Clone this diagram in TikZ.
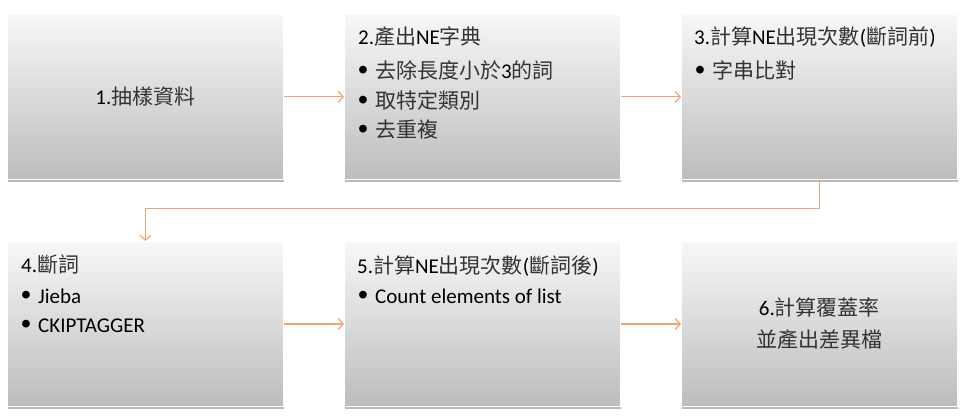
\documentclass[tikz,border=0pt]{standalone}
\usepackage{fontspec}
\setmainfont{Carlito}
\newfontfamily\cjk{Noto Sans CJK TC}
\newfontfamily\dotfont{Liberation Sans}
\newcommand{\zh}[1]{{\cjk\color{black!80}#1}}
\newcommand{\bul}{\makebox[17pt][l]{\dotfont\raisebox{-1pt}{\scalebox{1.35}{•}}}}
\usepackage{tikz}
\usetikzlibrary{calc,arrows.meta,positioning,shadows}
\definecolor{flowor}{HTML}{F4A46E}
\tikzset{
  stage/.style={rectangle,anchor=north west,minimum width=276pt,minimum height=165pt,
    top color=gray!6,bottom color=gray!52,draw=white,line width=0.8pt,
    drop shadow={shadow xshift=0.8pt,shadow yshift=-2.5pt,opacity=0.45,fill=black!60}},
  flow/.style={draw=flowor,line width=1.2pt,-{Straight Barb[length=5pt,width=11pt]}},
  line/.style={anchor=base west,inner sep=0pt},
  every node/.style={font=\fontsize{21}{29}\selectfont}
}

\begin{document}
\begin{tikzpicture}[x=1pt,y=-1pt]
  \useasboundingbox (0,0) rectangle (962,417);
  % boxes
  \node[stage] (b1) at (7,14) {};
  \node[stage] (b2) at (344,14) {};
  \node[stage] (b3) at (681,14) {};
  \node[stage] (b4) at (7,241) {};
  \node[stage] (b5) at (344,241) {};
  \node[stage] (b6) at (681,241) {};
  % texts
  \node at (b1.center) {1.\zh{抽樣資料}};
  \node[line] at ($(b2.north west)+(14,31)$) {2.\zh{產出}NE\zh{字典}};
  \node[line] at ($(b2.north west)+(14,65)$) {\bul\zh{去除長度小於}3\zh{的詞}};
  \node[line] at ($(b2.north west)+(14,95)$) {\bul\zh{取特定類別}};
  \node[line] at ($(b2.north west)+(14,124)$) {\bul\zh{去重複}};
  \node[line] at ($(b3.north west)+(13,31)$) {3.\zh{計算}NE\zh{出現次數}(\zh{斷詞前})};
  \node[line] at ($(b3.north west)+(14,65)$) {\bul\zh{字串比對}};
  \node[line] at ($(b4.north west)+(14,31)$) {4.\zh{斷詞}};
  \node[line] at ($(b4.north west)+(14,62)$) {\bul Jieba};
  \node[line] at ($(b4.north west)+(14,91)$) {\bul CKIPTAGGER};
  \node[line] at ($(b5.north west)+(13,32)$) {5.\zh{計算}NE\zh{出現次數}(\zh{斷詞後})};
  \node[line] at ($(b5.north west)+(14,62)$) {\bul Count elements of list};
  \node[align=center] at (b6.center) {6.\zh{計算覆蓋率}\\[3pt]\zh{並產出差異檔}};
  % arrows
  \draw[flow] (b1) -- (b2);
  \draw[flow] (b2) -- (b3);
  \draw[flow] (b3.south) -- ++(0,29) -| (b4.north);
  \draw[flow] (b4) -- (b5);
  \draw[flow] (b5) -- (b6);
\end{tikzpicture}
\end{document}
